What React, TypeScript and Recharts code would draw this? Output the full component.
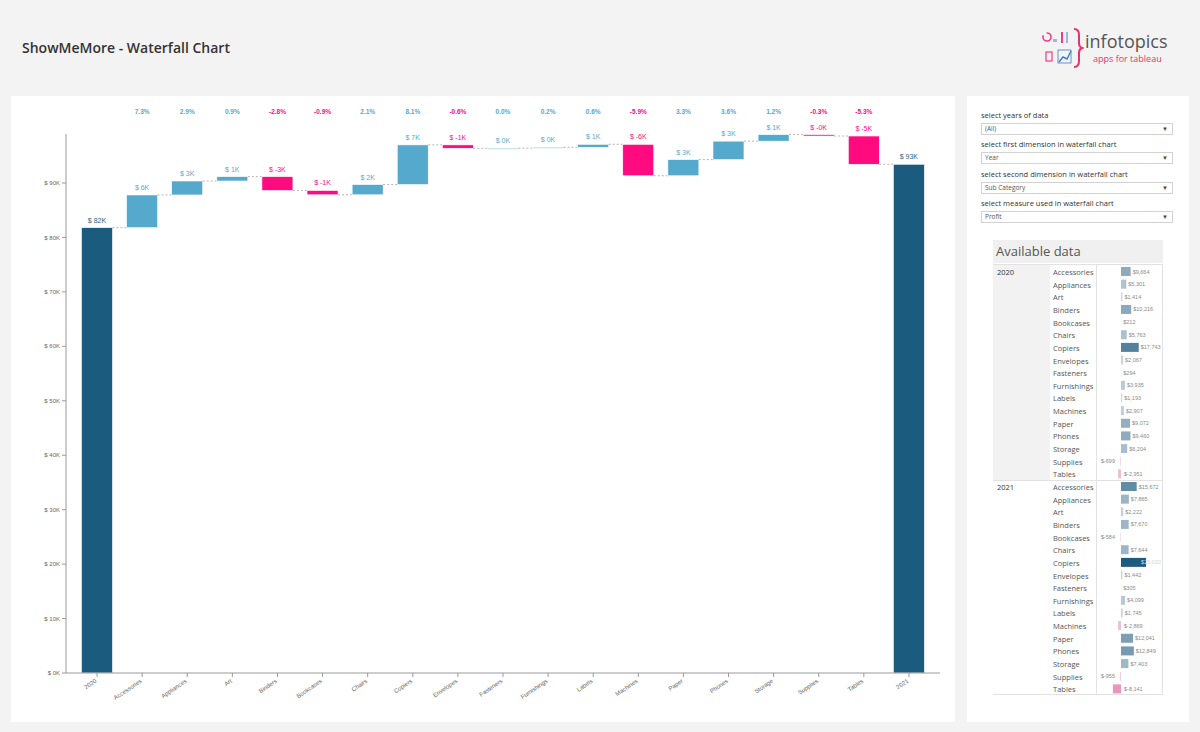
import React from "react";
import { BarChart, Bar, XAxis, YAxis, Cell, LabelList } from "recharts";

const subCategories = [
  "Accessories", "Appliances", "Art", "Binders", "Bookcases", "Chairs", "Copiers",
  "Envelopes", "Fasteners", "Furnishings", "Labels", "Machines", "Paper", "Phones",
  "Storage", "Supplies", "Tables",
];

const profit2020 = [9664, 5301, 1414, 10216, 212, 5763, 17743, 2067, 294, 3935, 1193, 2907, 9072, 9460, 6204, -699, -2951];
const profit2021 = [15672, 7865, 2222, 7670, -584, 7644, 25032, 1442, 305, 4099, 1745, -2869, 12041, 12849, 7403, -955, -8141];

const years = ["2020", "2021"];
const yTicks = [0, 10000, 20000, 30000, 40000, 50000, 60000, 70000, 80000, 90000];

const filters = [
  { label: "select years of data", value: "(All)" },
  { label: "select first dimension in waterfall chart", value: "Year" },
  { label: "select second dimension in waterfall chart", value: "Sub Category" },
  { label: "select measure used in waterfall chart", value: "Profit" },
];

const UP = "#55a9cd";
const DOWN = "#ff0a7f";
const TOTAL = "#1b5b7e";
const AXIS = "#9a9a9a";
const SANS = "'Liberation Sans', Arial, sans-serif";
const UI = "'Open Sans', 'Noto Sans', sans-serif";

const sum = (a: number[]) => a.reduce((s, v) => s + v, 0);
const kLabel = (v: number) => {
  const r = Math.abs(Math.round(v / 1000));
  return v < 0 ? `$ -${r}K` : `$ ${r}K`;
};

// waterfall rows built from the two years
const waterfall = (() => {
  const rows: any[] = [];
  const start = sum(profit2020);
  rows.push({ name: years[0], range: [0, start], kind: "total", label: kLabel(start), pct: "" });
  let run = start;
  subCategories.forEach((name, i) => {
    const d = profit2021[i] - profit2020[i];
    const next = run + d;
    rows.push({
      name,
      range: [Math.min(run, next), Math.max(run, next)],
      kind: d < 0 ? "down" : "up",
      label: kLabel(d),
      pct: `${((d / run) * 100).toFixed(1)}%`,
    });
    run = next;
  });
  rows.push({ name: years[1], range: [0, run], kind: "total", label: kLabel(run), pct: "" });
  return rows;
})();

const tableRows = years.flatMap((yr, yi) =>
  subCategories.map((name, i) => ({
    key: `${yr}-${name}`,
    year: yr,
    name,
    value: yi === 0 ? profit2020[i] : profit2021[i],
  }))
);

const mix = (a: number[], b: number[], t: number) =>
  `rgb(${a.map((c, i) => Math.round(c + (b[i] - c) * t)).join(",")})`;
const tableColor = (v: number) =>
  v >= 0
    ? mix([214, 222, 229], [27, 91, 128], Math.min(1, v / 25032))
    : mix([236, 214, 224], [232, 150, 190], Math.min(1, -v / 8141));

const GAP = 14;

const WaterfallBar = (props: any) => {
  const { x, y, width, height, payload, index } = props;
  const fill = payload.kind === "total" ? TOTAL : payload.kind === "down" ? DOWN : UP;
  const textFill = payload.kind === "total" ? "#2f5f7e" : payload.kind === "down" ? DOWN : UP;
  const endY = payload.kind === "down" ? y + height : y;
  const last = index === waterfall.length - 1;
  return (
    <g>
      <rect x={x} y={y} width={width} height={Math.max(height, 1)} fill={fill} stroke="#ffffff" strokeWidth={0.6} />
      {!last && (
        <line x1={x + width} x2={x + width + GAP} y1={endY} y2={endY} stroke="#b5b5b5" strokeWidth={1} strokeDasharray="2 2" />
      )}
      <text x={x + width / 2} y={y - 5} textAnchor="middle" fontSize={7} fontFamily={SANS} fill={textFill}>
        {payload.label}
      </text>
    </g>
  );
};

const PctTick = (props: any) => {
  const { x, y, payload } = props;
  const row = waterfall[payload.index];
  if (!row || !row.pct) return null;
  return (
    <text x={x} y={y - 12} textAnchor="middle" fontSize={6.5} fontWeight="bold" fontFamily={SANS} fill={row.kind === "down" ? DOWN : UP}>
      {row.pct}
    </text>
  );
};

const CatTick = (props: any) => {
  const { x, y, payload } = props;
  return (
    <text transform={`translate(${x},${y + 3}) rotate(-34)`} textAnchor="end" fontSize={6} fontFamily={SANS} fill="#666">
      {payload.value}
    </text>
  );
};

const TABLE_W = 66;

const TableLabel = (props: any) => {
  const { x, y, width, height, value } = props;
  const w = Number(width) || 0;
  const left = Math.min(x, x + w);
  const right = Math.max(x, x + w);
  const zero = value >= 0 ? left : right;
  const text = `$${Number(value).toLocaleString("en-US")}`;
  let tx = right + 2;
  let anchor = "start";
  if (value < 0 && value > -1000) {
    tx = zero - 6;
    anchor = "end";
  } else if (value < 0) {
    tx = zero + 3;
  } else if (tx + text.length * 2.8 > TABLE_W) {
    tx = TABLE_W - 1;
    anchor = "end";
  }
  return (
    <text x={tx} y={y + height / 2 + 2} textAnchor={anchor} fontSize={5.5} fontFamily={SANS} fill={anchor === "end" && value > 0 ? "#c9d6e0" : "#8a8a8a"}>
      {text}
    </text>
  );
};

const Dropdown = ({ label, value, top }: { label: string; value: string; top: number }) => (
  <div style={{ position: "absolute", left: 14, top, width: 192 }}>
    <div style={{ fontSize: 7.5, color: "#333", fontFamily: UI, height: 11 }}>{label}</div>
    <div style={{ marginTop: 2, height: 10, border: "1px solid #d2d2d2", background: "#fff", fontSize: 6.5, color: "#555", fontFamily: UI, lineHeight: "10px", paddingLeft: 3, position: "relative" }}>
      {value}
      <span style={{ position: "absolute", right: 4, top: 0, fontSize: 6, color: "#444" }}>▼</span>
    </div>
  </div>
);

const ROW_H = 430 / tableRows.length;

export default function App() {
  return (
    <div style={{ position: "absolute", left: 0, top: 0, width: 1200, height: 732, background: "#f3f3f3", overflow: "hidden" }}>
      <div style={{ position: "absolute", left: 22, top: 38, fontSize: 14, color: "#333", fontFamily: UI, fontWeight: 600 }}>
        ShowMeMore - Waterfall Chart
      </div>

      {/* logo */}
      <div style={{ position: "absolute", left: 1040, top: 26, width: 150, height: 46 }}>
        <svg width={32} height={42} style={{ position: "absolute", left: 0, top: 0 }}>
          <circle cx={7} cy={11} r={4} fill="none" stroke="#ef3e7f" strokeWidth={1.6} strokeDasharray="14 4" />
          <rect x={13} y={13} width={4} height={3} fill="#9fb4d8" />
          <rect x={21} y={6} width={2} height={11} fill="#ef3e7f" />
          <rect x={26} y={6} width={2} height={11} fill="#9fb4d8" />
          <rect x={6} y={26} width={6} height={9} fill="none" stroke="#ef3e7f" strokeWidth={1.2} />
          <polyline points="19,36 23,31 27,33 31,25" fill="none" stroke="#3d7ec9" strokeWidth={1.4} />
          <rect x={18} y={24} width={13} height={13} fill="none" stroke="#3d7ec9" strokeWidth={0.8} />
        </svg>
        <svg width={12} height={42} style={{ position: "absolute", left: 32, top: 1 }}>
          <path d="M2,2 Q7,2 7,8 L7,16 Q7,20 10,21 Q7,22 7,26 L7,34 Q7,40 2,40" fill="none" stroke="#e8326f" strokeWidth={2} />
        </svg>
        <div style={{ position: "absolute", left: 45, top: 4, fontSize: 18, color: "#555", fontFamily: UI, lineHeight: "22px" }}>infotopics</div>
        <div style={{ position: "absolute", left: 53, top: 27, fontSize: 9, color: "#e8326f", fontFamily: UI, lineHeight: "11px" }}>apps for tableau</div>
      </div>

      {/* waterfall panel */}
      <div style={{ position: "absolute", left: 11, top: 96, width: 944, height: 626, background: "#fff" }}>
        <BarChart width={944} height={626} data={waterfall} margin={{ top: 0, right: 15, bottom: 0, left: 0 }}>
          <XAxis
            xAxisId="top"
            orientation="top"
            dataKey="name"
            height={38}
            axisLine={false}
            tickLine={false}
            padding={{ left: 8.5, right: 8.5 }}
            tick={<PctTick />}
            interval={0}
          />
          <XAxis
            dataKey="name"
            height={49}
            padding={{ left: 8.5, right: 8.5 }}
            axisLine={{ stroke: AXIS }}
            tickLine={{ stroke: AXIS }}
            tickSize={4}
            tick={<CatTick />}
            interval={0}
          />
          <YAxis
            type="number"
            domain={[0, 99000]}
            ticks={yTicks}
            width={55}
            tickSize={4}
            tickMargin={2}
            axisLine={{ stroke: AXIS }}
            tickLine={{ stroke: AXIS }}
            tick={{ fontSize: 6, fill: "#666", fontFamily: SANS }}
            tickFormatter={(v: number) => `$ ${v / 1000}K`}
          />
          <Bar dataKey="range" barSize={31} shape={<WaterfallBar />} isAnimationActive={false} />
        </BarChart>
      </div>

      {/* control panel */}
      <div style={{ position: "absolute", left: 967, top: 96, width: 222, height: 626, background: "#fff" }}>
        {filters.map((f, i) => (
          <Dropdown key={f.label} label={f.label} value={f.value} top={14 + i * 29.3} />
        ))}

        <div style={{ position: "absolute", left: 26, top: 144, width: 170, height: 23, background: "#f0f0f0", fontSize: 13, color: "#555", fontFamily: UI, lineHeight: "23px", paddingLeft: 3, boxSizing: "border-box" }}>
          Available data
        </div>

        <div style={{ position: "absolute", left: 26, top: 168, width: 170, height: 431, borderTop: "1px solid #e2e2e2", borderBottom: "1px solid #e2e2e2", borderRight: "1px solid #e2e2e2", boxSizing: "border-box" }}>
          <div style={{ position: "absolute", left: 0, top: 0, width: 57, height: ROW_H * 17, background: "#f2f2f2" }} />
          <div style={{ position: "absolute", left: 103, top: 0, width: 1, height: 430, background: "#e2e2e2" }} />
          <div style={{ position: "absolute", left: 0, top: ROW_H * 17, width: 170, height: 1, background: "#e2e2e2" }} />
          {years.map((yr, yi) => (
            <div key={yr} style={{ position: "absolute", left: 4, top: ROW_H * 17 * yi + 1, fontSize: 7.5, color: "#333", fontFamily: UI, lineHeight: `${ROW_H}px` }}>
              {yr}
            </div>
          ))}
          {tableRows.map((r, i) => (
            <div key={r.key} style={{ position: "absolute", left: 60, top: i * ROW_H + 1, fontSize: 7.5, color: "#555", fontFamily: UI, lineHeight: `${ROW_H}px` }}>
              {r.name}
            </div>
          ))}
          <div style={{ position: "absolute", left: 103, top: 0 }}>
            <BarChart width={TABLE_W} height={430} data={tableRows} layout="vertical" margin={{ top: 0, right: 0, bottom: 0, left: 0 }}>
              <XAxis type="number" hide domain={[-25000, 41000]} />
              <YAxis type="category" dataKey="key" hide />
              <Bar dataKey="value" barSize={9} isAnimationActive={false}>
                {tableRows.map((r) => (
                  <Cell key={r.key} fill={tableColor(r.value)} />
                ))}
                <LabelList dataKey="value" content={<TableLabel />} />
              </Bar>
            </BarChart>
          </div>
        </div>
      </div>
    </div>
  );
}
